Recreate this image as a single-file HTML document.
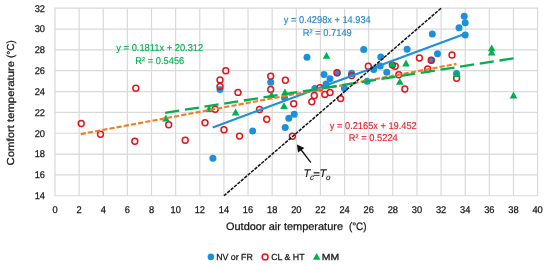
<!DOCTYPE html><html><head><meta charset="utf-8"><style>html,body{margin:0;padding:0;background:#fff;}svg{display:block;} text{text-rendering:geometricPrecision;font-family:"Liberation Sans",Arial,sans-serif;}</style></head><body>
<svg width="550" height="267" viewBox="0 0 550 267">
<rect width="550" height="267" fill="#fff"/>
<path d="M55.00,7.70V196.25 M79.13,7.70V196.25 M103.26,7.70V196.25 M127.39,7.70V196.25 M151.52,7.70V196.25 M175.65,7.70V196.25 M199.78,7.70V196.25 M223.91,7.70V196.25 M248.04,7.70V196.25 M272.17,7.70V196.25 M296.30,7.70V196.25 M320.43,7.70V196.25 M344.56,7.70V196.25 M368.69,7.70V196.25 M392.82,7.70V196.25 M416.95,7.70V196.25 M441.08,7.70V196.25 M465.21,7.70V196.25 M489.34,7.70V196.25 M513.47,7.70V196.25 M537.60,7.70V196.25 M54.5,195.75H538.1 M54.5,174.91H538.1 M54.5,154.07H538.1 M54.5,133.23H538.1 M54.5,112.39H538.1 M54.5,91.56H538.1 M54.5,70.72H538.1 M54.5,49.88H538.1 M54.5,29.04H538.1 M54.5,8.20H538.1" stroke="#D9D9D9" stroke-width="1.2" fill="none"/>
<text x="45.0" y="199.1" font-size="9.8" text-anchor="end" fill="#151515" stroke="#151515" stroke-width="0.25" textLength="10.35" lengthAdjust="spacingAndGlyphs">14</text>
<text x="45.0" y="178.2" font-size="9.8" text-anchor="end" fill="#151515" stroke="#151515" stroke-width="0.25" textLength="10.35" lengthAdjust="spacingAndGlyphs">16</text>
<text x="45.0" y="157.4" font-size="9.8" text-anchor="end" fill="#151515" stroke="#151515" stroke-width="0.25" textLength="10.35" lengthAdjust="spacingAndGlyphs">18</text>
<text x="45.0" y="136.5" font-size="9.8" text-anchor="end" fill="#151515" stroke="#151515" stroke-width="0.25" textLength="10.35" lengthAdjust="spacingAndGlyphs">20</text>
<text x="45.0" y="115.7" font-size="9.8" text-anchor="end" fill="#151515" stroke="#151515" stroke-width="0.25" textLength="10.35" lengthAdjust="spacingAndGlyphs">22</text>
<text x="45.0" y="94.9" font-size="9.8" text-anchor="end" fill="#151515" stroke="#151515" stroke-width="0.25" textLength="10.35" lengthAdjust="spacingAndGlyphs">24</text>
<text x="45.0" y="74.0" font-size="9.8" text-anchor="end" fill="#151515" stroke="#151515" stroke-width="0.25" textLength="10.35" lengthAdjust="spacingAndGlyphs">26</text>
<text x="45.0" y="53.2" font-size="9.8" text-anchor="end" fill="#151515" stroke="#151515" stroke-width="0.25" textLength="10.35" lengthAdjust="spacingAndGlyphs">28</text>
<text x="45.0" y="32.3" font-size="9.8" text-anchor="end" fill="#151515" stroke="#151515" stroke-width="0.25" textLength="10.35" lengthAdjust="spacingAndGlyphs">30</text>
<text x="45.0" y="11.5" font-size="9.8" text-anchor="end" fill="#151515" stroke="#151515" stroke-width="0.25" textLength="10.35" lengthAdjust="spacingAndGlyphs">32</text>
<text x="55.0" y="212.6" font-size="9.8" text-anchor="middle" fill="#151515" stroke="#151515" stroke-width="0.25" textLength="5.18" lengthAdjust="spacingAndGlyphs">0</text>
<text x="79.1" y="212.6" font-size="9.8" text-anchor="middle" fill="#151515" stroke="#151515" stroke-width="0.25" textLength="5.18" lengthAdjust="spacingAndGlyphs">2</text>
<text x="103.3" y="212.6" font-size="9.8" text-anchor="middle" fill="#151515" stroke="#151515" stroke-width="0.25" textLength="5.18" lengthAdjust="spacingAndGlyphs">4</text>
<text x="127.4" y="212.6" font-size="9.8" text-anchor="middle" fill="#151515" stroke="#151515" stroke-width="0.25" textLength="5.18" lengthAdjust="spacingAndGlyphs">6</text>
<text x="151.5" y="212.6" font-size="9.8" text-anchor="middle" fill="#151515" stroke="#151515" stroke-width="0.25" textLength="5.18" lengthAdjust="spacingAndGlyphs">8</text>
<text x="175.7" y="212.6" font-size="9.8" text-anchor="middle" fill="#151515" stroke="#151515" stroke-width="0.25" textLength="10.35" lengthAdjust="spacingAndGlyphs">10</text>
<text x="199.8" y="212.6" font-size="9.8" text-anchor="middle" fill="#151515" stroke="#151515" stroke-width="0.25" textLength="10.35" lengthAdjust="spacingAndGlyphs">12</text>
<text x="223.9" y="212.6" font-size="9.8" text-anchor="middle" fill="#151515" stroke="#151515" stroke-width="0.25" textLength="10.35" lengthAdjust="spacingAndGlyphs">14</text>
<text x="248.0" y="212.6" font-size="9.8" text-anchor="middle" fill="#151515" stroke="#151515" stroke-width="0.25" textLength="10.35" lengthAdjust="spacingAndGlyphs">16</text>
<text x="272.2" y="212.6" font-size="9.8" text-anchor="middle" fill="#151515" stroke="#151515" stroke-width="0.25" textLength="10.35" lengthAdjust="spacingAndGlyphs">18</text>
<text x="296.3" y="212.6" font-size="9.8" text-anchor="middle" fill="#151515" stroke="#151515" stroke-width="0.25" textLength="10.35" lengthAdjust="spacingAndGlyphs">20</text>
<text x="320.4" y="212.6" font-size="9.8" text-anchor="middle" fill="#151515" stroke="#151515" stroke-width="0.25" textLength="10.35" lengthAdjust="spacingAndGlyphs">22</text>
<text x="344.6" y="212.6" font-size="9.8" text-anchor="middle" fill="#151515" stroke="#151515" stroke-width="0.25" textLength="10.35" lengthAdjust="spacingAndGlyphs">24</text>
<text x="368.7" y="212.6" font-size="9.8" text-anchor="middle" fill="#151515" stroke="#151515" stroke-width="0.25" textLength="10.35" lengthAdjust="spacingAndGlyphs">26</text>
<text x="392.8" y="212.6" font-size="9.8" text-anchor="middle" fill="#151515" stroke="#151515" stroke-width="0.25" textLength="10.35" lengthAdjust="spacingAndGlyphs">28</text>
<text x="416.9" y="212.6" font-size="9.8" text-anchor="middle" fill="#151515" stroke="#151515" stroke-width="0.25" textLength="10.35" lengthAdjust="spacingAndGlyphs">30</text>
<text x="441.1" y="212.6" font-size="9.8" text-anchor="middle" fill="#151515" stroke="#151515" stroke-width="0.25" textLength="10.35" lengthAdjust="spacingAndGlyphs">32</text>
<text x="465.2" y="212.6" font-size="9.8" text-anchor="middle" fill="#151515" stroke="#151515" stroke-width="0.25" textLength="10.35" lengthAdjust="spacingAndGlyphs">34</text>
<text x="489.3" y="212.6" font-size="9.8" text-anchor="middle" fill="#151515" stroke="#151515" stroke-width="0.25" textLength="10.35" lengthAdjust="spacingAndGlyphs">36</text>
<text x="513.5" y="212.6" font-size="9.8" text-anchor="middle" fill="#151515" stroke="#151515" stroke-width="0.25" textLength="10.35" lengthAdjust="spacingAndGlyphs">38</text>
<text x="537.6" y="212.6" font-size="9.8" text-anchor="middle" fill="#151515" stroke="#151515" stroke-width="0.25" textLength="10.35" lengthAdjust="spacingAndGlyphs">40</text>
<text x="226.0" y="230.2" font-size="10.8" fill="#151515" stroke="#151515" stroke-width="0.25" textLength="117.0" lengthAdjust="spacingAndGlyphs">Outdoor air temperature</text>
<text x="348.9" y="230.2" font-size="10.8" fill="#151515" stroke="#151515" stroke-width="0.25" textLength="17.6" lengthAdjust="spacingAndGlyphs">(°C)</text>
<g transform="translate(14.2,0) rotate(-90)" font-size="10.2" fill="#151515" stroke="#151515" stroke-width="0.25"><text x="-165.4" y="0" textLength="104.4" lengthAdjust="spacingAndGlyphs">Comfort temperature</text><text x="-58.0" y="0" textLength="17.8" lengthAdjust="spacingAndGlyphs">(°C)</text></g>
<circle cx="220.0" cy="89.6" r="3.5" fill="#1E90D8"/>
<circle cx="252.7" cy="131" r="3.5" fill="#1E90D8"/>
<circle cx="212.9" cy="158.2" r="3.5" fill="#1E90D8"/>
<circle cx="270.7" cy="82.2" r="3.5" fill="#1E90D8"/>
<circle cx="284.5" cy="97.8" r="3.5" fill="#1E90D8"/>
<circle cx="294.2" cy="114.2" r="3.5" fill="#1E90D8"/>
<circle cx="288.8" cy="118.3" r="3.5" fill="#1E90D8"/>
<circle cx="285.2" cy="127.6" r="3.5" fill="#1E90D8"/>
<circle cx="307" cy="57.2" r="3.5" fill="#1E90D8"/>
<circle cx="324" cy="74.4" r="3.5" fill="#1E90D8"/>
<circle cx="330" cy="78.8" r="3.5" fill="#1E90D8"/>
<circle cx="326" cy="84" r="3.5" fill="#1E90D8"/>
<circle cx="337.2" cy="72.9" r="3.5" fill="#1E90D8"/>
<circle cx="351.6" cy="73.3" r="3.5" fill="#1E90D8"/>
<circle cx="314.8" cy="88.4" r="3.5" fill="#1E90D8"/>
<circle cx="344.4" cy="88.3" r="3.5" fill="#1E90D8"/>
<circle cx="363.7" cy="49.5" r="3.5" fill="#1E90D8"/>
<circle cx="380.8" cy="57" r="3.5" fill="#1E90D8"/>
<circle cx="380.2" cy="66" r="3.5" fill="#1E90D8"/>
<circle cx="373.7" cy="69.5" r="3.5" fill="#1E90D8"/>
<circle cx="386.8" cy="72.3" r="3.5" fill="#1E90D8"/>
<circle cx="367.1" cy="81.2" r="3.5" fill="#1E90D8"/>
<circle cx="407.1" cy="49.2" r="3.5" fill="#1E90D8"/>
<circle cx="437.5" cy="53.8" r="3.5" fill="#1E90D8"/>
<circle cx="431.5" cy="60.2" r="3.5" fill="#1E90D8"/>
<circle cx="464.2" cy="16.2" r="3.5" fill="#1E90D8"/>
<circle cx="465.2" cy="22.7" r="3.5" fill="#1E90D8"/>
<circle cx="459" cy="27.8" r="3.5" fill="#1E90D8"/>
<circle cx="465.2" cy="35" r="3.5" fill="#1E90D8"/>
<circle cx="432.3" cy="33.9" r="3.5" fill="#1E90D8"/>
<circle cx="456.5" cy="73.5" r="3.5" fill="#1E90D8"/>
<circle cx="81.2" cy="123.5" r="2.95" fill="none" stroke="#E3121B" stroke-width="1.5"/>
<circle cx="100.5" cy="134.2" r="2.95" fill="none" stroke="#E3121B" stroke-width="1.5"/>
<circle cx="134.8" cy="141.3" r="2.95" fill="none" stroke="#E3121B" stroke-width="1.5"/>
<circle cx="135.8" cy="88.2" r="2.95" fill="none" stroke="#E3121B" stroke-width="1.5"/>
<circle cx="225.8" cy="70.7" r="2.95" fill="none" stroke="#E3121B" stroke-width="1.5"/>
<circle cx="220.0" cy="79.9" r="2.95" fill="none" stroke="#E3121B" stroke-width="1.5"/>
<circle cx="220.0" cy="86.4" r="2.95" fill="none" stroke="#E3121B" stroke-width="1.5"/>
<circle cx="238.0" cy="92.4" r="2.95" fill="none" stroke="#E3121B" stroke-width="1.5"/>
<circle cx="168.7" cy="124.7" r="2.95" fill="none" stroke="#E3121B" stroke-width="1.5"/>
<circle cx="185.2" cy="140.3" r="2.95" fill="none" stroke="#E3121B" stroke-width="1.5"/>
<circle cx="205" cy="122.7" r="2.95" fill="none" stroke="#E3121B" stroke-width="1.5"/>
<circle cx="215.2" cy="109.3" r="2.95" fill="none" stroke="#E3121B" stroke-width="1.5"/>
<circle cx="224.0" cy="129.7" r="2.95" fill="none" stroke="#E3121B" stroke-width="1.5"/>
<circle cx="239.5" cy="136.1" r="2.95" fill="none" stroke="#E3121B" stroke-width="1.5"/>
<circle cx="259.5" cy="109.5" r="2.95" fill="none" stroke="#E3121B" stroke-width="1.5"/>
<circle cx="266.7" cy="119.2" r="2.95" fill="none" stroke="#E3121B" stroke-width="1.5"/>
<circle cx="270.7" cy="76.3" r="2.95" fill="none" stroke="#E3121B" stroke-width="1.5"/>
<circle cx="270.7" cy="89.4" r="2.95" fill="none" stroke="#E3121B" stroke-width="1.5"/>
<circle cx="285.4" cy="80.2" r="2.95" fill="none" stroke="#E3121B" stroke-width="1.5"/>
<circle cx="293.7" cy="103.8" r="2.95" fill="none" stroke="#E3121B" stroke-width="1.5"/>
<circle cx="292.4" cy="136.2" r="2.95" fill="none" stroke="#E3121B" stroke-width="1.5"/>
<circle cx="311.8" cy="101.7" r="2.95" fill="none" stroke="#E3121B" stroke-width="1.5"/>
<circle cx="314.3" cy="95.5" r="2.95" fill="none" stroke="#E3121B" stroke-width="1.5"/>
<circle cx="320.0" cy="87.8" r="2.95" fill="none" stroke="#E3121B" stroke-width="1.5"/>
<circle cx="324.8" cy="94.4" r="2.95" fill="none" stroke="#E3121B" stroke-width="1.5"/>
<circle cx="330" cy="92.5" r="2.95" fill="none" stroke="#E3121B" stroke-width="1.5"/>
<circle cx="340.6" cy="98.6" r="2.95" fill="none" stroke="#E3121B" stroke-width="1.5"/>
<circle cx="337" cy="72.7" r="2.95" fill="none" stroke="#E3121B" stroke-width="1.5"/>
<circle cx="351.6" cy="75.6" r="2.95" fill="none" stroke="#E3121B" stroke-width="1.5"/>
<circle cx="368.3" cy="66.2" r="2.95" fill="none" stroke="#E3121B" stroke-width="1.5"/>
<circle cx="392.4" cy="65.1" r="2.95" fill="none" stroke="#E3121B" stroke-width="1.5"/>
<circle cx="395.2" cy="66.2" r="2.95" fill="none" stroke="#E3121B" stroke-width="1.5"/>
<circle cx="398.8" cy="74.8" r="2.95" fill="none" stroke="#E3121B" stroke-width="1.5"/>
<circle cx="404.8" cy="89" r="2.95" fill="none" stroke="#E3121B" stroke-width="1.5"/>
<circle cx="419.4" cy="58" r="2.95" fill="none" stroke="#E3121B" stroke-width="1.5"/>
<circle cx="431.2" cy="60.2" r="2.95" fill="none" stroke="#E3121B" stroke-width="1.5"/>
<circle cx="427.7" cy="69" r="2.95" fill="none" stroke="#E3121B" stroke-width="1.5"/>
<circle cx="452" cy="55" r="2.95" fill="none" stroke="#E3121B" stroke-width="1.5"/>
<circle cx="456.6" cy="78.2" r="2.95" fill="none" stroke="#E3121B" stroke-width="1.5"/>
<path d="M165.9,114.6L169.7,121.4L162.1,121.4Z" fill="#00B050"/>
<path d="M209.2,105.1L213.0,111.9L205.4,111.9Z" fill="#00B050"/>
<path d="M235.6,108.6L239.4,115.4L231.8,115.4Z" fill="#00B050"/>
<path d="M271.5,91.1L275.3,97.9L267.7,97.9Z" fill="#00B050"/>
<path d="M285.0,88.5L288.8,95.3L281.2,95.3Z" fill="#00B050"/>
<path d="M284.0,102.2L287.8,109.0L280.2,109.0Z" fill="#00B050"/>
<path d="M326.5,52.0L330.3,58.8L322.7,58.8Z" fill="#00B050"/>
<path d="M392.5,60.1L396.3,66.9L388.7,66.9Z" fill="#00B050"/>
<path d="M406.0,59.6L409.8,66.4L402.2,66.4Z" fill="#00B050"/>
<path d="M399.8,77.9L403.6,84.7L396.0,84.7Z" fill="#00B050"/>
<path d="M456.8,70.1L460.6,76.9L453.0,76.9Z" fill="#00B050"/>
<path d="M491.7,44.4L495.5,51.2L487.9,51.2Z" fill="#00B050"/>
<path d="M491.7,48.6L495.5,55.4L487.9,55.4Z" fill="#00B050"/>
<path d="M513.5,91.6L517.3,98.4L509.7,98.4Z" fill="#00B050"/>
<line x1="212.7" y1="127.5" x2="465.2" y2="33.8" stroke="#1E90D8" stroke-width="2.2"/>
<line x1="80.7" y1="134.1" x2="456.5" y2="63.9" stroke="#F47B20" stroke-width="2.1" stroke-dasharray="5.2,2.1"/>
<line x1="165.2" y1="112.8" x2="513.5" y2="58.3" stroke="#00B050" stroke-width="2.3" stroke-dasharray="14.2,5.7"/>
<line x1="223.9" y1="195.8" x2="441.1" y2="8.2" stroke="#111" stroke-width="1.5" stroke-dasharray="3.4,1.1"/>
<text x="159.8" y="51.2" font-size="9.9" text-anchor="middle" fill="#00B050" stroke="#00B050" stroke-width="0.15" textLength="86.9" lengthAdjust="spacingAndGlyphs">y = 0.1811x + 20.312</text>
<text x="159.8" y="63.8" font-size="9.9" text-anchor="middle" fill="#00B050" stroke="#00B050" stroke-width="0.15" textLength="48.9" lengthAdjust="spacingAndGlyphs">R² = 0.5456</text>
<text x="327.3" y="23.1" font-size="9.9" text-anchor="middle" fill="#2787CE" stroke="#2787CE" stroke-width="0.15" textLength="86.9" lengthAdjust="spacingAndGlyphs">y = 0.4298x + 14.934</text>
<text x="327.3" y="35.7" font-size="9.9" text-anchor="middle" fill="#2787CE" stroke="#2787CE" stroke-width="0.15" textLength="48.9" lengthAdjust="spacingAndGlyphs">R² = 0.7149</text>
<text x="373.3" y="128.8" font-size="9.9" text-anchor="middle" fill="#E8212A" stroke="#E8212A" stroke-width="0.15" textLength="86.9" lengthAdjust="spacingAndGlyphs">y = 0.2165x + 19.452</text>
<text x="373.3" y="141.4" font-size="9.9" text-anchor="middle" fill="#E8212A" stroke="#E8212A" stroke-width="0.15" textLength="48.9" lengthAdjust="spacingAndGlyphs">R² = 0.5224</text>
<line x1="310.9" y1="162.6" x2="300.5" y2="149.0" stroke="#111" stroke-width="1.3"/>
<path d="M296.9,144.5 L304.4,148.0 L298.0,152.4 Z" fill="#111"/>
<g font-style="italic" fill="#1a1a1a" stroke="#1a1a1a" stroke-width="0.15"><text x="303.6" y="177.3" font-size="11.2">T</text><text x="309.9" y="179.9" font-size="8">c</text><text x="313.0" y="177.8" font-size="11.6">=</text><text x="319.6" y="177.3" font-size="11.2">T</text><text x="326.0" y="179.9" font-size="8">o</text></g>
<circle cx="210.9" cy="256.9" r="3.3" fill="#1E90D8"/>
<text x="216.2" y="260.1" font-size="8.8" fill="#151515" stroke="#151515" stroke-width="0.25">NV or FR</text>
<circle cx="265.1" cy="256.9" r="2.95" fill="none" stroke="#E3121B" stroke-width="1.5"/>
<text x="271.2" y="260.1" font-size="8.8" fill="#151515" stroke="#151515" stroke-width="0.25">CL &amp; HT</text>
<path d="M316.7,253.0L320.5,259.8L312.9,259.8Z" fill="#00B050"/>
<text x="321.7" y="260.1" font-size="8.8" fill="#151515" stroke="#151515" stroke-width="0.25" textLength="17.4" lengthAdjust="spacingAndGlyphs">MM</text>
</svg></body></html>
